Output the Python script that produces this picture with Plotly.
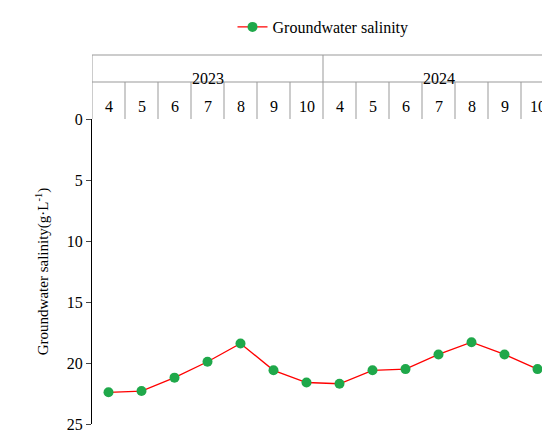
import plotly.graph_objects as go

years = ["2023", "2024"]
months = ["4", "5", "6", "7", "8", "9", "10", "4", "5", "6", "7", "8", "9", "10"]
salinity = [22.4, 22.3, 21.2, 19.9, 18.4, 20.6, 21.6, 21.7, 20.6, 20.5, 19.3, 18.3, 19.3, 20.5]

n = len(months)
xs = list(range(n))
fig = go.Figure(go.Scatter(
    x=xs, y=salinity, mode="lines+markers", name="Groundwater salinity",
    line=dict(color="#ff0000", width=1.3),
    marker=dict(color="#1fa84a", size=10, line=dict(width=0))))

H = 305
top_year = 1 + (111 - 47) / H
mid = 1 + (111 - 74) / H
shapes = [dict(type="line", xref="x", yref="paper", x0=-0.5, x1=n - 0.5, y0=top_year, y1=top_year, line=dict(color="#999", width=1)),
          dict(type="line", xref="x", yref="paper", x0=-0.5, x1=n - 0.5, y0=mid, y1=mid, line=dict(color="#999", width=1)),
          dict(type="line", xref="x", yref="paper", x0=-0.5, x1=-0.5, y0=1, y1=top_year, line=dict(color="#999", width=1)),
          dict(type="line", xref="x", yref="paper", x0=n - 0.5, x1=n - 0.5, y0=1, y1=top_year, line=dict(color="#999", width=1))]
annotations = []
per = n // len(years)
for i, yr in enumerate(years):
    annotations.append(dict(x=i * per + (per - 1) / 2, y=(top_year + mid) / 2, xref="x", yref="paper",
                            text=yr, showarrow=False, font=dict(size=16)))
    if i > 0:
        shapes.append(dict(type="line", xref="x", yref="paper", x0=i * per - 0.5, x1=i * per - 0.5,
                           y0=1, y1=top_year, line=dict(color="#999", width=1)))
for j, m in enumerate(months):
    annotations.append(dict(x=j, y=1 + (111 - 88) / H, xref="x", yref="paper", text=m, showarrow=False, font=dict(size=16)))
    if j > 0 and j % per:
        shapes.append(dict(type="line", xref="x", yref="paper", x0=j - 0.5, x1=j - 0.5,
                           y0=1, y1=mid, line=dict(color="#999", width=1)))

fig.update_layout(
    width=550, height=431, margin=dict(l=84, r=4, t=111, b=15, autoexpand=False),
    paper_bgcolor="white", plot_bgcolor="white",
    font=dict(family="Liberation Serif", size=16, color="black"),
    showlegend=True,
    legend=dict(orientation="h", x=0.5, xanchor="center", y=1 + (111 - 2) / H, yanchor="top", font=dict(size=16)),
    xaxis=dict(range=[-0.5, n - 0.5], showticklabels=False, showgrid=False, zeroline=False, fixedrange=True),
    yaxis=dict(range=[25, 0], tickvals=[0, 5, 10, 15, 20, 25], showgrid=False, zeroline=False,
               showline=True, linecolor="black", ticks="outside", ticklen=5,
               title=dict(text="Groundwater salinity(g·L<sup>-1</sup>)", standoff=14, font=dict(size=15))),
    shapes=shapes, annotations=annotations)
fig.write_html("out.html")
